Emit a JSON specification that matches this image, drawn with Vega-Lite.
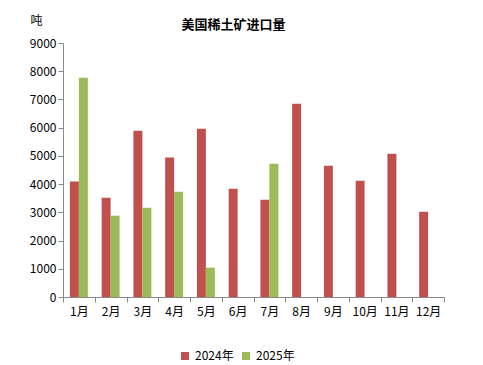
{
  "$schema": "https://vega.github.io/schema/vega-lite/v6.json",
  "autosize": "none",
  "width": 381,
  "height": 254,
  "padding": {"left": 63, "top": 43, "right": 39, "bottom": 68},
  "background": "white",
  "config": {
    "font": "Noto Sans CJK SC",
    "view": {"stroke": null}
  },
  "title": {
    "text": "美国稀土矿进口量",
    "fontSize": 13,
    "fontWeight": "bold",
    "color": "#000000",
    "anchor": "middle",
    "dx": -20,
    "offset": 0,
    "dy": 18
  },
  "data": {
    "values": [
      {"month": "1月", "year": "2024年", "value": 4090},
      {"month": "1月", "year": "2025年", "value": 7770},
      {"month": "2月", "year": "2024年", "value": 3520},
      {"month": "2月", "year": "2025年", "value": 2880},
      {"month": "3月", "year": "2024年", "value": 5890},
      {"month": "3月", "year": "2025年", "value": 3160},
      {"month": "4月", "year": "2024年", "value": 4940},
      {"month": "4月", "year": "2025年", "value": 3730},
      {"month": "5月", "year": "2024年", "value": 5960},
      {"month": "5月", "year": "2025年", "value": 1040},
      {"month": "6月", "year": "2024年", "value": 3840},
      {"month": "7月", "year": "2024年", "value": 3450},
      {"month": "7月", "year": "2025年", "value": 4720},
      {"month": "8月", "year": "2024年", "value": 6850},
      {"month": "9月", "year": "2024年", "value": 4650},
      {"month": "10月", "year": "2024年", "value": 4120},
      {"month": "11月", "year": "2024年", "value": 5080},
      {"month": "12月", "year": "2024年", "value": 3020}
    ]
  },
  "mark": {"type": "bar"},
  "encoding": {
    "x": {
      "field": "month",
      "type": "nominal",
      "sort": ["1月","2月","3月","4月","5月","6月","7月","8月","9月","10月","11月","12月"],
      "scale": {"paddingInner": 0, "paddingOuter": 0},
      "axis": {
        "title": null,
        "labelAngle": 0,
        "labelFontSize": 12,
        "labelColor": "#000000",
        "labelPadding": 4,
        "domainColor": "#898989",
        "tickColor": "#898989",
        "tickSize": 5,
        "tickBand": "extent",
        "grid": false
      }
    },
    "xOffset": {
      "field": "year",
      "type": "nominal",
      "scale": {"domain": ["2024年", "2025年"], "paddingInner": 0, "paddingOuter": 0.77}
    },
    "y": {
      "field": "value",
      "type": "quantitative",
      "scale": {"domain": [0, 9000], "nice": false},
      "axis": {
        "values": [0,1000,2000,3000,4000,5000,6000,7000,8000,9000],
        "format": "d",
        "title": "吨",
        "titleAngle": 0,
        "titleFontSize": 12,
        "titleFontWeight": "normal",
        "titleColor": "#000000",
        "titleX": -33,
        "titleY": -16,
        "titleAlign": "left",
        "labelFontSize": 12,
        "labelColor": "#000000",
        "labelPadding": 2,
        "domainColor": "#898989",
        "tickColor": "#898989",
        "tickSize": 5,
        "grid": false
      }
    },
    "color": {
      "field": "year",
      "type": "nominal",
      "scale": {"domain": ["2024年", "2025年"], "range": ["#C0504D", "#9BBB59"]},
      "legend": {
        "title": null,
        "orient": "none",
        "direction": "horizontal",
        "legendX": 116,
        "legendY": 307,
        "symbolType": "square",
        "symbolSize": 64,
        "symbolStrokeWidth": 0,
        "labelFontSize": 12,
        "labelColor": "#000000",
        "columnPadding": 6,
        "labelOffset": 4
      }
    }
  }
}
